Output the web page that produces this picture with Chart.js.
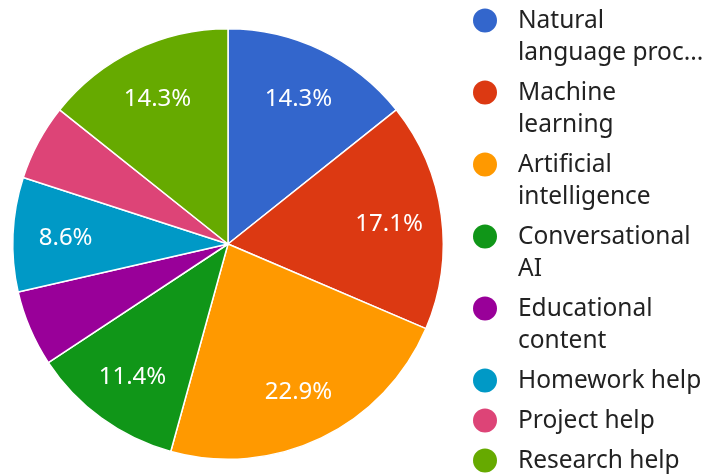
<!DOCTYPE html>
<html>
<head>
<meta charset="utf-8">
<script src="https://cdn.jsdelivr.net/npm/chart.js@4/dist/chart.umd.min.js"></script>
<style>
html, body { margin: 0; padding: 0; background: #ffffff; }
canvas { display: block; }
</style>
</head>
<body>
<canvas id="topicsChart" width="704" height="474"></canvas>
<script>
// categories as they appear in the legend (already wrapped like the original)
const categories = [
  ["Natural", "language proc..."],
  ["Machine", "learning"],
  ["Artificial", "intelligence"],
  ["Conversational", "AI"],
  ["Educational", "content"],
  ["Homework help"],
  ["Project help"],
  ["Research help"]
];

// counts per topic (35 in total)
const counts = [5, 6, 8, 4, 2, 3, 2, 5];

const sliceColors = [
  "#3366cc", "#dc3912", "#ff9900", "#109618",
  "#990099", "#0099c6", "#dd4477", "#66aa00"
];

const FONT = "'Noto Sans', 'Open Sans', sans-serif";

// percent text inside the slices
const sliceLabels = {
  id: "sliceLabels",
  afterDatasetsDraw(chart) {
    const ctx = chart.ctx;
    const meta = chart.getDatasetMeta(0);
    const total = counts.reduce((a, b) => a + b, 0);
    ctx.save();
    ctx.font = "24px " + FONT;
    ctx.fillStyle = "#ffffff";
    ctx.textAlign = "center";
    ctx.textBaseline = "alphabetic";
    meta.data.forEach((arc, i) => {
      const share = counts[i] / total;
      if (share < 0.07) return;
      const p = arc.getProps(["x", "y", "startAngle", "endAngle", "outerRadius"], true);
      const mid = (p.startAngle + p.endAngle) / 2;
      const r = p.outerRadius * 0.755;
      // baseline pushed down so the digits sit centred on the point
      ctx.fillText((share * 100).toFixed(1) + "%", p.x + Math.cos(mid) * r, p.y + Math.sin(mid) * r + 8.5);
    });
    ctx.restore();
  }
};

// legend on the right, drawn from the same arrays
const sideLegend = {
  id: "sideLegend",
  afterDraw(chart) {
    const ctx = chart.ctx;
    ctx.save();
    ctx.font = "24.5px " + FONT;
    ctx.textAlign = "left";
    ctx.textBaseline = "middle";
    let y = 20.5;
    categories.forEach((lines, i) => {
      ctx.fillStyle = sliceColors[i];
      ctx.beginPath();
      ctx.arc(485, y, 12, 0, Math.PI * 2);
      ctx.fill();
      ctx.fillStyle = "#222222";
      lines.forEach((line, j) => {
        ctx.fillText(line, 518, y + 1 + j * 32);
      });
      y += lines.length * 32 + 8;
    });
    ctx.restore();
  }
};

new Chart(
  document.getElementById("topicsChart"),
  {
    type: "pie",
    data: {
      labels: categories.map(l => l.join(" ")),
      datasets: [{
        data: counts,
        backgroundColor: sliceColors,
        borderColor: "#ffffff",
        borderWidth: 1.5
      }]
    },
    options: {
      responsive: false,
      animation: false,
      layout: {
        padding: { left: 12, right: 260, top: 28, bottom: 14 }
      },
      plugins: {
        legend: { display: false },
        tooltip: { enabled: false }
      }
    },
    plugins: [sliceLabels, sideLegend]
  }
);
</script>
</body>
</html>
